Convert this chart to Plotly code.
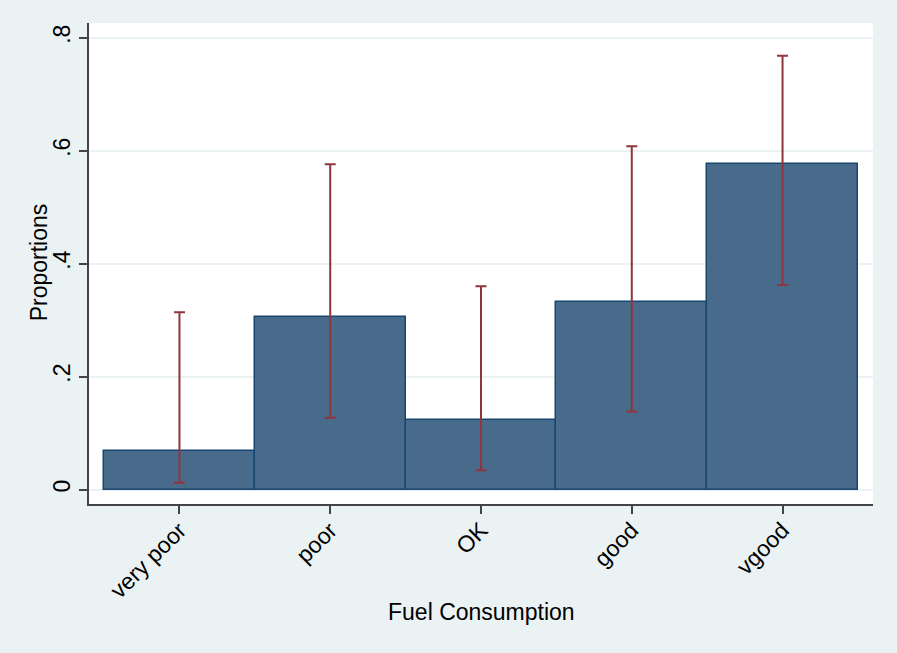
import plotly.graph_objects as go

categories = ["very poor", "poor", "OK", "good", "vgood"]
proportions = [0.069, 0.306, 0.124, 0.332, 0.577]
ci_lower = [0.012, 0.127, 0.034, 0.138, 0.362]
ci_upper = [0.314, 0.576, 0.360, 0.608, 0.768]

y_tickvals = [0, 0.2, 0.4, 0.6, 0.8]
y_ticktext = ["0", ".2", ".4", ".6", ".8"]

err_plus = [u - p for u, p in zip(ci_upper, proportions)]
err_minus = [p - l for p, l in zip(proportions, ci_lower)]

FONT = "Liberation Sans, Arial, sans-serif"

fig = go.Figure()
fig.add_trace(go.Bar(
    x=categories,
    y=proportions,
    marker=dict(color="#486A8B", line=dict(color="#1A476F", width=1.5)),
    error_y=dict(type="data", array=err_plus, arrayminus=err_minus,
                 color="#90353B", thickness=2, width=5.5, visible=True),
    showlegend=False,
))

fig.update_layout(
    width=897, height=653,
    margin=dict(l=88.5, r=23.5, t=23, b=148.5),
    paper_bgcolor="#EAF2F3",
    plot_bgcolor="#FFFFFF",
    bargap=0,
    font=dict(family=FONT, size=23, color="#000000"),
    xaxis=dict(
        type="category",
        range=[-0.6, 4.6],
        tickangle=-45,
        ticks="outside", ticklen=8, tickwidth=1.5, tickcolor="#444444",
        showline=True, linecolor="#444444", linewidth=1.5,
        showgrid=False, zeroline=False,
        tickfont=dict(family=FONT, size=23),
        ticklabelstandoff=-6,
        automargin=False,
    ),
    yaxis=dict(
        range=[-0.0256, 0.826],
        tickvals=y_tickvals, ticktext=y_ticktext,
        tickangle=-90,
        ticks="outside", ticklen=8, tickwidth=1.5, tickcolor="#444444",
        showline=True, linecolor="#444444", linewidth=1.5,
        showgrid=True, gridcolor="#EAF2F3", gridwidth=1.5,
        zeroline=False,
        tickfont=dict(family=FONT, size=23),
        automargin=False,
    ),
    annotations=[
        dict(text="Fuel Consumption", xref="paper", yref="paper",
             x=0.5, y=-0.2253, xanchor="center", yanchor="middle",
             showarrow=False, font=dict(family=FONT, size=23)),
        dict(text="Proportions", xref="paper", yref="paper",
             x=-0.0643, y=0.5016, xanchor="center", yanchor="middle",
             textangle=-90, showarrow=False, font=dict(family=FONT, size=23)),
    ],
)

fig.write_html("out.html")
